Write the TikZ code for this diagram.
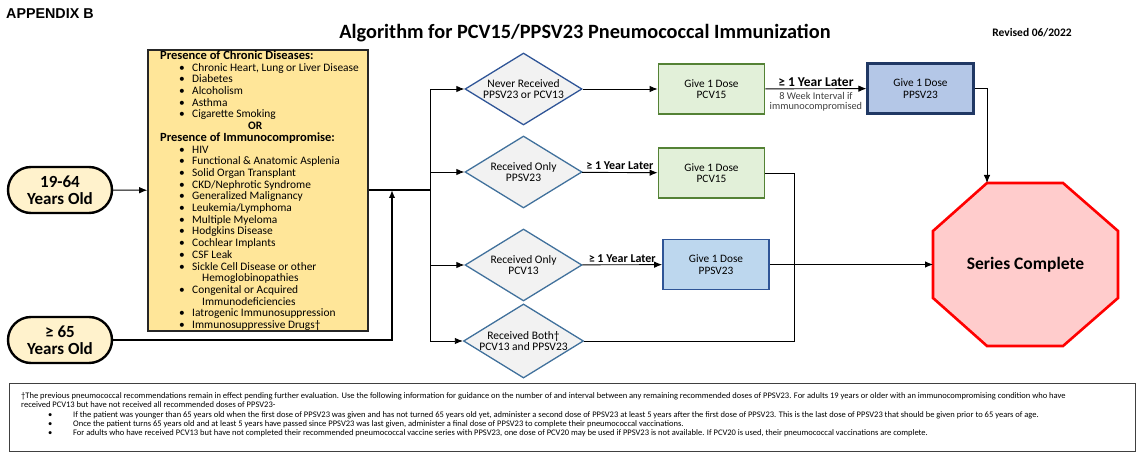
\documentclass[tikz,border=0pt]{standalone}
\usepackage{fontspec}
\setmainfont{Carlito}
\newfontfamily\arialfont{Liberation Sans}
\usetikzlibrary{arrows.meta,shapes.geometric,positioning}

\definecolor{riskfill}{HTML}{FFE699}
\definecolor{riskline}{HTML}{262626}
\definecolor{agefill}{HTML}{FFF2CC}
\definecolor{choicefill}{HTML}{F2F2F2}
\definecolor{choicedark}{HTML}{2F5597}
\definecolor{choiceline}{HTML}{41719C}
\definecolor{greenfill}{HTML}{E2F0D9}
\definecolor{greenline}{HTML}{548235}
\definecolor{bluefill}{HTML}{B4C7E7}
\definecolor{blueline}{HTML}{203864}
\definecolor{lightblue}{HTML}{BDD7EE}
\definecolor{donefill}{HTML}{FFCCCC}
\definecolor{noteline}{HTML}{404040}

% list lines in the risk box
\newcommand{\bul}[1]{\hspace*{19pt}\makebox[13pt][l]{\textbullet}#1}
\newcommand{\bulmore}[1]{\hspace*{42pt}#1}
\newcommand{\riskhead}[1]{{\fontsize{12.5}{11.7}\selectfont\bfseries #1}}
% list lines in the footnote
\newcommand{\notebul}[1]{\hspace*{27pt}\makebox[25pt][l]{\textbullet}#1}

\begin{document}
\begin{tikzpicture}[x=1pt, y=-1pt, >={Latex[length=8pt,width=6.5pt]},
	agebox/.style={draw, line width=2.4pt, fill=agefill, rounded corners=23pt,
		minimum width=104pt, minimum height=46pt, align=center,
		font=\fontsize{17}{17}\selectfont\bfseries},
	riskbox/.style={draw=riskline, line width=1.6pt, fill=riskfill,
		minimum width=220pt, minimum height=281pt},
	choice/.style={diamond, draw=#1, line width=1.3pt, fill=choicefill, aspect=1.62,
		inner sep=0pt, minimum width=117pt, minimum height=72pt, align=center,
		font=\fontsize{11.5}{11.5}\selectfont},
	dose/.style={draw=#1, line width=1.8pt, minimum width=106pt, minimum height=50pt,
		align=center, font=\fontsize{11.3}{11.5}\selectfont},
	later/.style={font=\fontsize{12}{13}\selectfont\bfseries, inner sep=2pt},
	link/.style={line width=0.9pt}]

	\useasboundingbox (0,0) rectangle (1147,462);

	% headings
	\node[anchor=west, inner sep=0pt, font=\arialfont\fontsize{14.3}{15}\selectfont\bfseries] (appx) at (6,14) {APPENDIX B};
	\node[font=\fontsize{20.3}{22}\selectfont\bfseries] (title) at (585,33) {Algorithm for PCV15/PPSV23 Pneumococcal Immunization};
	\node[font=\fontsize{11.5}{12}\selectfont\bfseries] (rev) at (1032,33) {Revised 06/2022};

	% ages and risk list
	\node[agebox] (young) at (60,190) {19-64\\Years Old};
	\node[agebox] (old) at (60,340) {≥ 65\\Years Old};
	\node[riskbox] (risk) at (258,190.5) {};
	\node[anchor=north west, inner sep=0pt, align=left, font=\fontsize{11.4}{11.7}\selectfont] (risklist) at (160,50.5) {%
		\riskhead{Presence of Chronic Diseases:}\\
		\bul{Chronic Heart, Lung or Liver Disease}\\
		\bul{Diabetes}\\
		\bul{Alcoholism}\\
		\bul{Asthma}\\
		\bul{Cigarette Smoking}\\
		\hspace*{88pt}\textbf{OR}\\
		\riskhead{Presence of Immunocompromise:}\\
		\bul{HIV}\\
		\bul{Functional \& Anatomic Asplenia}\\
		\bul{Solid Organ Transplant}\\
		\bul{CKD/Nephrotic Syndrome}\\
		\bul{Generalized Malignancy}\\
		\bul{Leukemia/Lymphoma}\\
		\bul{Multiple Myeloma}\\
		\bul{Hodgkins Disease}\\
		\bul{Cochlear Implants}\\
		\bul{CSF Leak}\\
		\bul{Sickle Cell Disease or other}\\
		\bulmore{Hemoglobinopathies}\\
		\bul{Congenital or Acquired}\\
		\bulmore{Immunodeficiencies}\\
		\bul{Iatrogenic Immunosuppression}\\
		\bul{Immunosuppressive Drugs†}};

	% history of vaccination
	\node[choice=choicedark] (never) at (523.5,89) {Never Received\\PPSV23 or PCV13};
	\node[choice=choiceline] (onlyppsv) at (523.5,172) {Received Only\\PPSV23};
	\node[choice=choiceline] (onlypcv) at (523.5,265) {Received Only\\PCV13};
	\node[choice=choiceline] (both) at (523.5,341) {Received Both†\\PCV13 and PPSV23};

	% doses
	\node[dose=greenline, fill=greenfill] (pcvA) at (711.5,89) {Give 1 Dose\\PCV15};
	\node[dose=greenline, fill=greenfill] (pcvB) at (711.5,173) {Give 1 Dose\\PCV15};
	\node[dose=blueline, fill=bluefill, line width=2.2pt] (ppsvA) at (920.5,88.5) {Give 1 Dose\\PPSV23};
	\node[dose=choicedark, fill=lightblue] (ppsvB) at (716,264.5) {Give 1 Dose\\PPSV23};

	% series complete
	\draw[draw=red, line width=2.6pt, fill=donefill, line join=miter]
		(987,183) -- (1063,183) -- (1118,231) -- (1118,298) -- (1063,346)
		-- (987,346) -- (933,298) -- (933,231) -- cycle;
	\node[font=\fontsize{17.5}{18}\selectfont\bfseries] (done) at (1025.5,264.5) {Series Complete};
	\coordinate (done-n) at (987,183);
	\coordinate (done-w) at (933,264.5);

	% joints
	\coordinate (split) at (430,190);
	\coordinate (join) at (392,190);
	\coordinate (merge) at (794,264.5);

	\draw [link, arrows=->] (young) -- (risk);
	\draw [line width=1.6pt, arrows=->] (old) -| (join);
	\draw [line width=1.4pt] (risk.east |- split) -- (split);
	\draw [link, arrows=->] (split) |- (never);
	\draw [link, arrows=->] (split) |- (onlyppsv);
	\draw [link, arrows=->] (split) |- (onlypcv);
	\draw [link, arrows=->] (split) |- (both);

	\draw [link, arrows=->] (never) -- (pcvA);
	\draw [link, arrows=->] (pcvA) -- (ppsvA)
		node [midway, above, later, font=\fontsize{13.5}{14}\selectfont\bfseries] (gapA) {≥ 1 Year Later}
		node [midway, below, align=center, text=noteline, inner sep=3pt, font=\fontsize{10.3}{10}\selectfont] (gapnote) {8 Week Interval if\\immunocompromised};
	\draw [link, arrows=->] (onlyppsv) -- (pcvB) node [midway, above, later] (gapB) {≥ 1 Year Later};
	\draw [link, arrows=->] (onlypcv) -- (ppsvB) node [midway, above, later] (gapC) {≥ 1 Year Later};

	\draw [link, arrows=->] (ppsvA) -| (done-n);
	\draw [link] (pcvB) -| (merge);
	\draw [link] (both) -| (merge);
	\draw [link, arrows=->] (ppsvB) -- (done-w);

	% footnote
	\node[draw=noteline, line width=0.9pt, minimum width=1126pt, minimum height=68pt] (notebox) at (572,417) {};
	\node[anchor=north west, inner sep=0pt, align=left, font=\fontsize{8.5}{9.3}\selectfont] (note) at (21,392.5) {%
		†The previous pneumococcal recommendations remain in effect pending further evaluation. Use the following information for guidance on the number of and interval between any remaining recommended doses of PPSV23. For adults 19 years or older with an immunocompromising condition who have\\
		received PCV13 but have not received all recommended doses of PPSV23-\\
		\notebul{If the patient was younger than 65 years old when the first dose of PPSV23 was given and has not turned 65 years old yet, administer a second dose of PPSV23 at least 5 years after the first dose of PPSV23. This is the last dose of PPSV23 that should be given prior to 65 years of age.}\\
		\notebul{Once the patient turns 65 years old and at least 5 years have passed since PPSV23 was last given, administer a final dose of PPSV23 to complete their pneumococcal vaccinations.}\\
		\notebul{For adults who have received PCV13 but have not completed their recommended pneumococcal vaccine series with PPSV23, one dose of PCV20 may be used if PPSV23 is not available. If PCV20 is used, their pneumococcal vaccinations are complete.}};
\end{tikzpicture}
\end{document}
